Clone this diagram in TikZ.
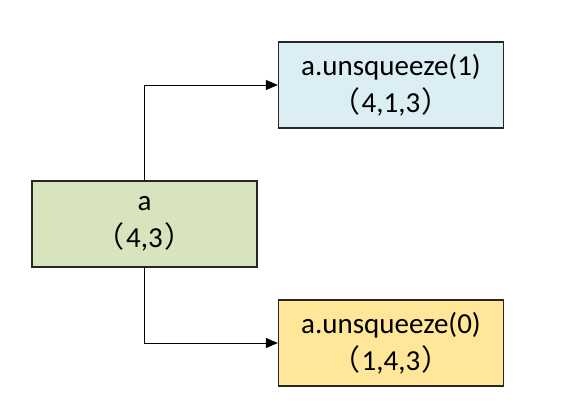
\documentclass[tikz,border=0pt]{standalone}
\usepackage{fontspec}
\setmainfont{Carlito}
\newfontfamily\cjk{Noto Sans CJK SC}
\usetikzlibrary{arrows.meta}
\definecolor{gfill}{HTML}{D7E4BD}
\definecolor{bfill}{HTML}{DAEEF3}
\definecolor{yfill}{HTML}{FFE699}
\newcommand{\lp}{{\cjk （}\hspace{1.5pt}}
\newcommand{\rp}{\hspace{1.5pt}{\cjk ）}}
\tikzset{
  box/.style={draw=black!85, line width=1.3pt, minimum width=225pt, minimum height=86pt, align=center, inner sep=0pt,
    font=\fontsize{29pt}{37pt}\selectfont},
  conn/.style={draw=black, line width=0.9pt, -{Triangle[length=12pt,width=10pt]}},
  plain/.style={draw=black, line width=0.9pt}
}
\begin{document}
\begin{tikzpicture}[x=1pt,y=-1pt]
\useasboundingbox (0,0) rectangle (575,415);
\node[box, fill=gfill] (a) at (144.5,224) {a\\\lp 4,3\rp};
\node[box, fill=bfill] (b) at (391,85) {a.unsqueeze(1)\\\lp 4,1,3\rp};
\node[box, fill=yfill] (c) at (391,343) {a.unsqueeze(0)\\\lp 1,4,3\rp};
\draw[conn] (a.north) |- (b.west);
\draw[conn] (a.south) |- (c.west);
\end{tikzpicture}
\end{document}
